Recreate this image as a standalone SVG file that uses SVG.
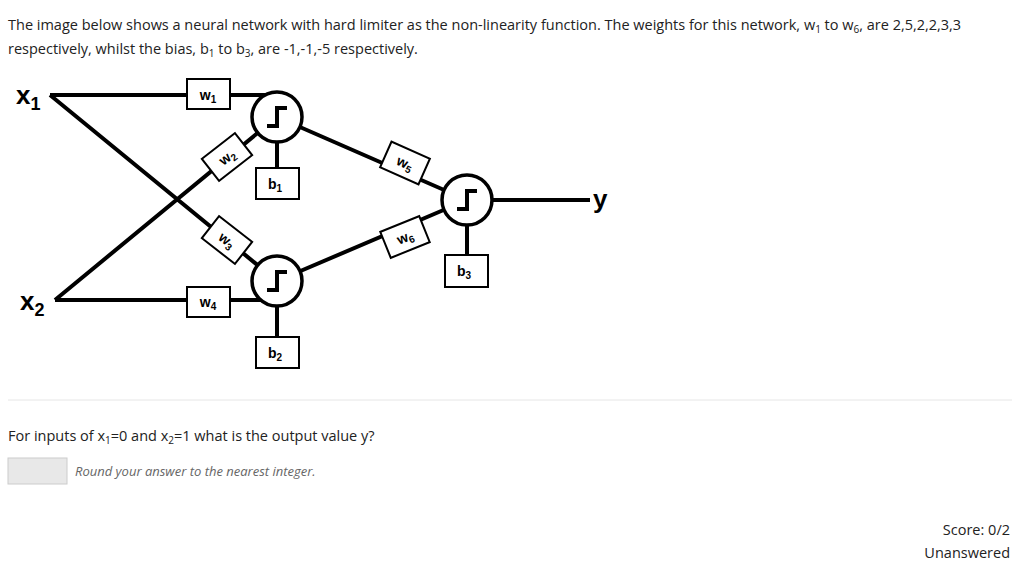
<svg xmlns="http://www.w3.org/2000/svg" width="1024" height="578" viewBox="0 0 1024 578">
<style>
.t{font-family:"Open Sans","Liberation Sans",sans-serif;font-size:14.5px;fill:#222}
.l{stroke:#000;stroke-width:4;fill:none}
.b{fill:#fff;stroke:#000;stroke-width:2}
.bl{font-family:"Liberation Sans",sans-serif;font-weight:bold;font-size:14px;text-anchor:middle}
.n{fill:#fff;stroke:#000;stroke-width:3.5}
</style>
<rect width="1024" height="578" fill="#fff"/>
<text class="t" x="8" y="30">The image below shows a neural network with hard limiter as the non-linearity function. The weights for this network, w<tspan font-size="10" dy="3">1</tspan><tspan dy="-3"> to w</tspan><tspan font-size="10" dy="3">6</tspan><tspan dy="-3">, are 2,5,2,2,3,3</tspan></text>
<text class="t" x="8" y="54">respectively, whilst the bias, b<tspan font-size="10" dy="3">1</tspan><tspan dy="-3"> to b</tspan><tspan font-size="10" dy="3">3</tspan><tspan dy="-3">, are -1,-1,-5 respectively.</tspan></text>
<g id="connectors">
<path class="l" d="M50 95H277M50 95L277 281M55 300H277M55 300L277 117M277 117L467 200M277 281L467 200M277 117V183M277 281V352M467 200V271M467 200H590"/>
</g>
<g id="x1"><text x="16" y="104" font-family="Liberation Sans,sans-serif" font-weight="bold" font-size="26">x<tspan font-size="18" dy="6">1</tspan></text></g>
<g id="x2"><text x="20" y="310" font-family="Liberation Sans,sans-serif" font-weight="bold" font-size="26">x<tspan font-size="18" dy="6">2</tspan></text></g>
<g id="y"><text x="593" y="208" font-family="Liberation Sans,sans-serif" font-weight="bold" font-size="26">y</text></g>
<g id="w1"><rect class="b" x="187" y="79" width="43" height="30"/><text class="bl" x="208" y="100">w<tspan font-size="10" dy="3">1</tspan></text></g>
<g id="w4"><rect class="b" x="187" y="287" width="43" height="30"/><text class="bl" x="208" y="307">w<tspan font-size="10" dy="3">4</tspan></text></g>
<g id="w2" transform="translate(227,157) rotate(-38)"><rect class="b" x="-21" y="-14" width="42" height="28"/><text class="bl" x="0" y="5">w<tspan font-size="10" dy="3">2</tspan></text></g>
<g id="w3" transform="translate(227,240) rotate(38)"><rect class="b" x="-21" y="-14" width="42" height="28"/><text class="bl" x="0" y="5">w<tspan font-size="10" dy="3">3</tspan></text></g>
<g id="w5" transform="translate(405,163) rotate(24)"><rect class="b" x="-21" y="-14" width="42" height="28"/><text class="bl" x="0" y="5">w<tspan font-size="10" dy="3">5</tspan></text></g>
<g id="w6" transform="translate(405,237) rotate(-22)"><rect class="b" x="-21" y="-14" width="42" height="28"/><text class="bl" x="0" y="5">w<tspan font-size="10" dy="3">6</tspan></text></g>
<g id="b1"><rect class="b" x="256" y="168" width="43" height="31"/><text class="bl" x="275" y="189">b<tspan font-size="10" dy="3">1</tspan></text></g>
<g id="b2"><rect class="b" x="256" y="337" width="43" height="31"/><text class="bl" x="275" y="358">b<tspan font-size="10" dy="3">2</tspan></text></g>
<g id="b3"><rect class="b" x="445" y="255" width="43" height="32"/><text class="bl" x="464" y="276">b<tspan font-size="10" dy="3">3</tspan></text></g>
<g id="n1"><circle class="n" cx="277" cy="117" r="25"/><path class="l" d="M267 126H277V108H287" stroke-width="3.5"/></g>
<g id="n2"><circle class="n" cx="277" cy="281" r="25"/><path class="l" d="M267 290H277V272H287" stroke-width="3.5"/></g>
<g id="n3"><circle class="n" cx="467" cy="200" r="25"/><path class="l" d="M457 209H467V191H477" stroke-width="3.5"/></g>
<line x1="8" y1="400" x2="1012" y2="400" stroke="#e6e6e6"/>
<text class="t" x="8" y="441">For inputs of x<tspan font-size="10" dy="3">1</tspan><tspan dy="-3">=0 and x</tspan><tspan font-size="10" dy="3">2</tspan><tspan dy="-3">=1 what is the output value y?</tspan></text>
<rect x="8" y="458" width="59" height="26" fill="#e8e8e8" stroke="#ccc"/>
<text x="75" y="476" font-family="Open Sans,Liberation Sans,sans-serif" font-style="italic" font-size="13" fill="#666">Round your answer to the nearest integer.</text>
<text class="t" x="1010" y="535" text-anchor="end">Score: 0/2</text>
<text class="t" x="1010" y="558" text-anchor="end" font-size="13">Unanswered</text>
</svg>
